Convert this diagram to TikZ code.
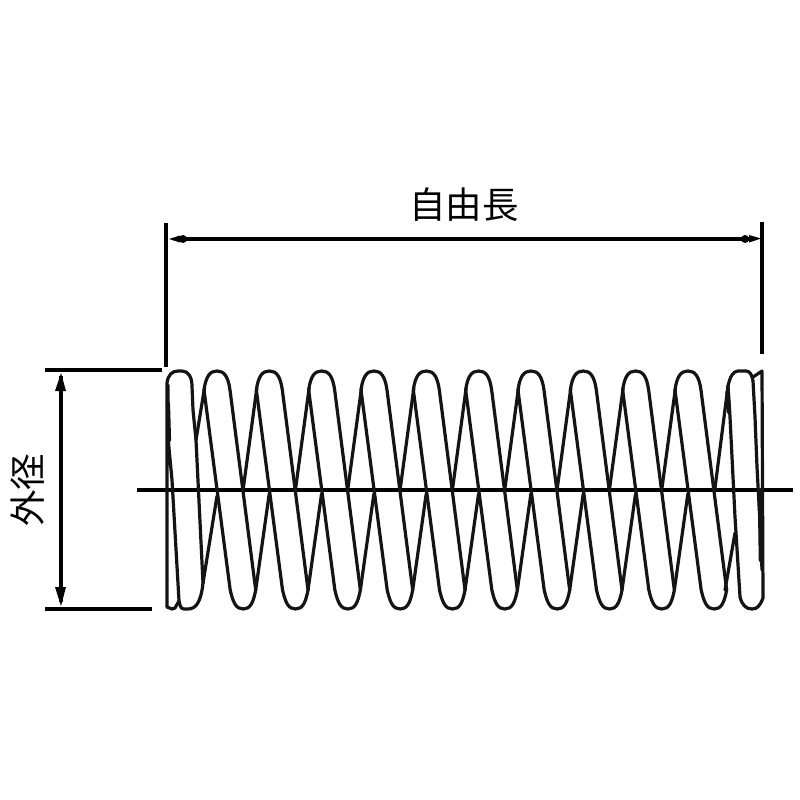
\documentclass[tikz,border=0pt]{standalone}
\usepackage{fontspec}
\newfontfamily\cjk{Noto Sans CJK JP}
\tikzset{
  coil/.style={line width=3.2pt,line join=round,line cap=round,black!92},
  dimline/.style={line width=3.2pt,black},
  tipfill/.style={fill=black,draw=none},
  label/.style={font=\cjk\fontsize{36.5}{36.5}\selectfont,inner sep=0pt,text=black,draw=none}
}
\begin{document}
\begin{tikzpicture}[x=1pt,y=-1pt]
\useasboundingbox (0,0) rectangle (800,800);
\fill[white] (0,0) rectangle (800,800);
\coordinate (extLa) at (166,223);
\coordinate (extLb) at (166,367);
\coordinate (extRa) at (762,222);
\coordinate (extRb) at (762,354);
\coordinate (dimL) at (176,239);
\coordinate (dimR) at (752,239);
\coordinate (dimT) at (61,376);
\coordinate (dimB) at (61,602);
\coordinate (extTa) at (45,370);
\coordinate (extTb) at (162,370);
\coordinate (extBa) at (45,609);
\coordinate (extBb) at (152,609);
\coordinate (axisA) at (137,490);
\coordinate (axisB) at (793,490);
\draw[dimline] (extLa) -- (extLb);
\draw[dimline] (extRa) -- (extRb);
\draw[dimline] (dimL) -- (dimR);
\draw[dimline] (dimT) -- (dimB);
\draw[dimline] (extTa) -- (extTb);
\draw[dimline] (extBa) -- (extBb);
\draw[dimline] (axisA) -- (axisB);
\fill[tipfill] (169,239) -- (180,235.5) -- (180,242.5) -- cycle;
\fill[tipfill] (183,239) circle (4);
\fill[tipfill] (761,238.5) -- (749,235) -- (749,242.5) -- cycle;
\fill[tipfill] (745,239) circle (4);
\fill[tipfill] (61,373) -- (55,391) -- (66,391) -- cycle;
\fill[tipfill] (61,606) -- (55,587) -- (66,587) -- cycle;
\foreach \k in {0,...,9}{
  \pgfmathsetmacro{\X}{217+52.33*\k}
  \pgfmathsetmacro{\T}{\X+26.2}
  \draw[coil] (\X-13,390) .. controls (\X-11,376) and (\X-7,371) .. (\X,371)
     .. controls (\X+7,371) and (\X+11,376) .. (\X+13,390)
     -- (\T+12.5,590) .. controls (\T+10,603) and (\T+7,609) .. (\T,609)
     .. controls (\T-7,609) and (\T-10,603) .. (\T-13,590) -- cycle;
}
\foreach \k in {0,...,8}{
  \pgfmathsetmacro{\T}{243.2+52.33*\k}
  \draw[coil] (\T+12.5,590) -- (\T+26,494);
}
\foreach \k in {1,...,9}{
  \pgfmathsetmacro{\X}{217+52.33*\k}
  \draw[coil] (\X-12.5,388) -- (\X-26,488);
}
\draw[coil] (167,607) -- (167,383) .. controls (168,375) and (172,371) .. (178,371)
  -- (182,371) .. controls (188,371) and (192,377) .. (192,386)
  -- (193,410) -- (196,440) -- (203,583)
  .. controls (201,602) and (196,609) .. (188,609) -- (184,609)
  .. controls (181,609) and (180,606) .. (179,601)
  -- (172,480) -- (168.5,443) -- (168,385);
\draw[coil] (167,607) -- (172,609) -- (175,608) -- (179,601);
\draw[coil] (204.5,388) -- (196,440);
\draw[coil] (203,583) -- (217,496);
\draw[coil,line width=4.2pt] (168,405) -- (169,440);
\draw[coil] (728,386) .. controls (730,377) and (733,371) .. (738,371)
  -- (746,371) .. controls (750,371) and (752,375) .. (753,381)
  -- (755,417) -- (757,467) -- (760,523) -- (762,570);
\draw[coil] (728,386) -- (730,417) -- (735,517) -- (740,597)
  .. controls (742,605) and (746,609) .. (752,609)
  .. controls (757,609) and (760,606) .. (763,598) -- (762,371) -- (753,377);
\draw[coil] (728,386) -- (715,488);
\draw[coil] (725,590) -- (735,533);
\draw[coil,line width=4.6pt] (760,490) -- (761,560);
\draw[coil,line width=4.2pt] (727.5,392) -- (729,412);
\node[label] (free) at (464,205) {自由長};
\node[label,rotate=90] (dia) at (28,490) {外径};
\end{tikzpicture}
\end{document}
